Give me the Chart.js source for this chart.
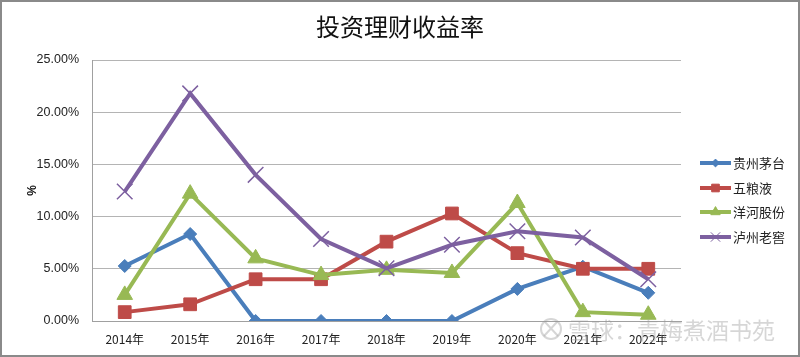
<!DOCTYPE html>
<html>
<head>
<meta charset="utf-8">
<script src="https://cdn.jsdelivr.net/npm/chart.js@4/dist/chart.umd.min.js"></script>
<style>
html,body{margin:0;padding:0;background:#fff;}
#wrap{width:800px;height:357px;position:relative;}
</style>
</head>
<body>
<div id="wrap"><canvas id="c" width="800" height="357"></canvas></div>
<script>
const title = "投资理财收益率";
const categories = ["2014年","2015年","2016年","2017年","2018年","2019年","2020年","2021年","2022年"];
const seriesNames = ["贵州茅台","五粮液","洋河股份","泸州老窖"];
const moutai   = [5.27, 8.33, 0, 0, 0, 0, 3.07, 5.2, 2.7];
const wuliangye = [0.85, 1.6, 4.0, 4.0, 7.6, 10.3, 6.5, 5.0, 5.0];
const yanghe   = [2.5, 12.2, 6.0, 4.4, 4.9, 4.6, 11.3, 0.85, 0.6];
const luzhou   = [12.4, 21.8, 14.0, 7.85, 5.05, 7.3, 8.6, 8.0, 4.0];
const yTicks = [0, 5, 10, 15, 20, 25];
const watermark = "雪球：青梅煮酒书苑";

const colors = ["#4A7EBB", "#BE4B48", "#98B954", "#7D60A0"];
const styles = [
  {pointStyle:'rectRot', radius:6.5},
  {pointStyle:'rect', radius:9},
  {pointStyle:'triangle', radius:9},
  {pointStyle:'crossRot', radius:11}
];
const values = [moutai, wuliangye, yanghe, luzhou];

const datasets = values.map((v,i)=>({
  label: seriesNames[i],
  data: v,
  borderColor: colors[i],
  backgroundColor: colors[i],
  borderWidth: 4,
  pointStyle: styles[i].pointStyle,
  pointRadius: styles[i].radius,
  pointHoverRadius: styles[i].radius,
  pointBorderWidth: i===3 ? 1.5 : 1,
  pointBorderColor: colors[i],
  pointBackgroundColor: colors[i],
  tension: 0,
  order: 4 - i
}));

const deco = {
  id:'deco',
  beforeDraw(chart){
    const ctx = chart.ctx;
    ctx.save();
    ctx.fillStyle = '#fff';
    ctx.fillRect(0,0,chart.width,chart.height);
    ctx.restore();
  },
  afterDraw(chart){
    const ctx = chart.ctx;
    ctx.save();
    // title
    ctx.fillStyle = '#111';
    ctx.font = '24px "Noto Sans CJK SC"';
    ctx.textAlign = 'center';
    ctx.textBaseline = 'middle';
    ctx.fillText(title, 400, 27);
    // legend
    ctx.font = '13px "Noto Sans CJK SC"';
    ctx.textAlign = 'left';
    const ly = [163, 188, 212, 237];
    seriesNames.forEach((n,i)=>{
      const y = ly[i];
      ctx.strokeStyle = colors[i];
      ctx.lineWidth = 4;
      ctx.beginPath(); ctx.moveTo(700,y); ctx.lineTo(731,y); ctx.stroke();
      ctx.fillStyle = colors[i];
      ctx.strokeStyle = colors[i];
      ctx.lineWidth = 1;
      Chart.helpers.drawPoint(ctx, {pointStyle: styles[i].pointStyle, radius: styles[i].radius*0.6, rotation:0, borderWidth:1}, 715.5, y);
      ctx.fillStyle = '#222';
      ctx.fillText(n, 733, y);
    });
    // watermark
    ctx.globalAlpha = 0.4;
    ctx.strokeStyle = '#999';
    ctx.lineWidth = 2;
    ctx.beginPath(); ctx.arc(551, 329, 10, 0, Math.PI*2); ctx.stroke();
    ctx.beginPath(); ctx.moveTo(545,322); ctx.lineTo(558,336); ctx.moveTo(557,322); ctx.lineTo(544,336); ctx.stroke();
    ctx.fillStyle = '#999';
    ctx.font = '23px "Noto Sans CJK SC"';
    ctx.textAlign = 'left';
    ctx.fillText(watermark, 568, 330);
    ctx.globalAlpha = 1;
    // border
    ctx.strokeStyle = '#8a8a8a';
    ctx.lineWidth = 2;
    ctx.strokeRect(1,1,798,355);
    ctx.restore();
  }
};

new Chart(document.getElementById('c'), {
  type:'line',
  data:{labels:categories, datasets},
  options:{
    responsive:false,
    animation:false,
    devicePixelRatio:1,
    layout:{padding:{left:0, top:60, right:119, bottom:0}},
    plugins:{legend:{display:false}, tooltip:{enabled:false}, title:{display:false}},
    scales:{
      x:{
        offset:true,
        grid:{display:false, drawTicks:false},
        border:{display:true, color:'#a0a0a0', width:1},
        ticks:{color:'#222', font:{size:12, family:'"Noto Sans CJK SC", "Liberation Sans"'}, padding:11, maxRotation:0, autoSkip:false},
        afterFit(s){ s.height = 36; }
      },
      y:{
        min:0, max:25,
        afterBuildTicks(s){ s.ticks = yTicks.map(v=>({value:v})); },
        grid:{color:'#b4b4b4', lineWidth:1, drawTicks:false},
        border:{display:true, color:'#a0a0a0', width:1},
        ticks:{color:'#222', font:{size:12.5, family:'"Liberation Sans"'}, padding:13,
          callback:(v)=>v.toFixed(2)+'%'},
        title:{display:true, text:'%', color:'#111', font:{size:12, weight:'bold', family:'"Liberation Sans"'}, padding:{top:25,bottom:0}},
        afterFit(s){ s.width = 92; }
      }
    }
  },
  plugins:[deco]
});
</script>
</body>
</html>
